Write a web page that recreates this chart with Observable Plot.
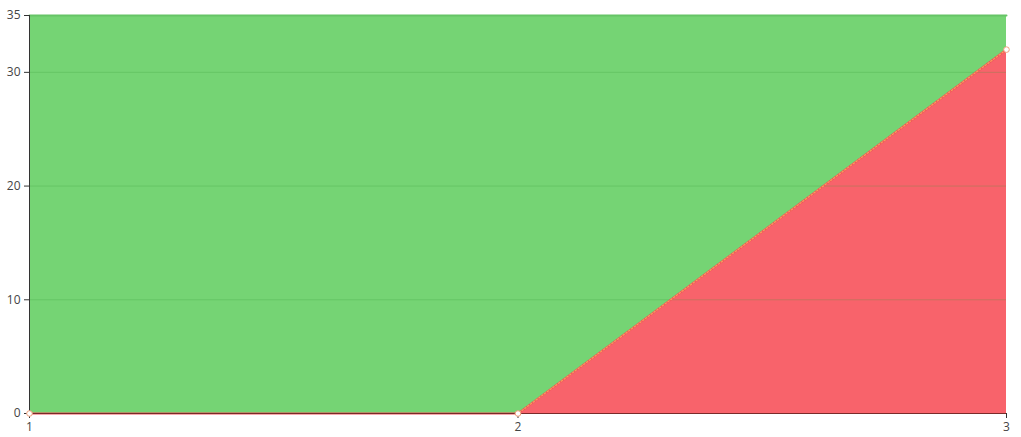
<!DOCTYPE html>
<html><head><meta charset="utf-8">
<script src="https://cdn.jsdelivr.net/npm/d3@7"></script>
<script src="https://cdn.jsdelivr.net/npm/@observablehq/plot@0.6"></script>
<style>body{margin:0;background:#fff;font-family:"Open Sans",sans-serif}</style>
</head><body><div id="chart"></div>
<script>
const xs = [1, 2, 3];
const greenValues = [35, 35, 35];
const redValues = [0, 0, 32];
const yTicks = [0, 10, 20, 30, 35];
const xTicks = [1, 2, 3];

const green = xs.map((x, i) => ({x, y: greenValues[i]}));
const red = xs.map((x, i) => ({x, y: redValues[i]}));

const chart = Plot.plot({
  width: 1021, height: 437,
  marginLeft: 29, marginRight: 15, marginTop: 15, marginBottom: 24,
  style: {fontFamily: '"Open Sans", sans-serif', fontSize: "12px", color: "#444"},
  x: {domain: [1, 3], ticks: xTicks, tickFormat: d => d, tickSize: 5, label: null},
  y: {domain: [0, 35], ticks: yTicks, tickSize: 5, label: null},
  marks: [
    Plot.areaY(green, {x: "x", y: "y", fill: "#75d474", curve: "linear"}),
    Plot.lineY(green, {x: "x", y: "y", stroke: "#66c466", strokeWidth: 2}),
    Plot.areaY(red, {x: "x", y: "y", fill: "#f8636b"}),
    Plot.gridY(yTicks.filter(d => d > 0 && d < 35), {stroke: "#3a9a3a", strokeOpacity: 0.25}),
    Plot.lineY(red, {x: "x", y: "y", stroke: "#f0525a", strokeWidth: 2}),
    Plot.lineY(red, {x: "x", y: "y", stroke: "#f6a35a", strokeWidth: 1.2, strokeDasharray: "1.5,2"}),
    Plot.ruleX([1], {stroke: "#333", strokeWidth: 1}),
    Plot.ruleY([0], {stroke: "#7a2a2a", strokeWidth: 1}),
    Plot.axisX({ticks: xTicks, tickSize: 5, tickFormat: d => d, label: null, stroke: "#333"}),
    Plot.axisY({ticks: yTicks, tickSize: 5, label: null, stroke: "#333"}),
    Plot.dot(red, {x: "x", y: "y", r: 2.8, fill: "#fff", stroke: "#f0a07a", strokeWidth: 1})
  ]
});
document.getElementById("chart").append(chart);
</script></body></html>
